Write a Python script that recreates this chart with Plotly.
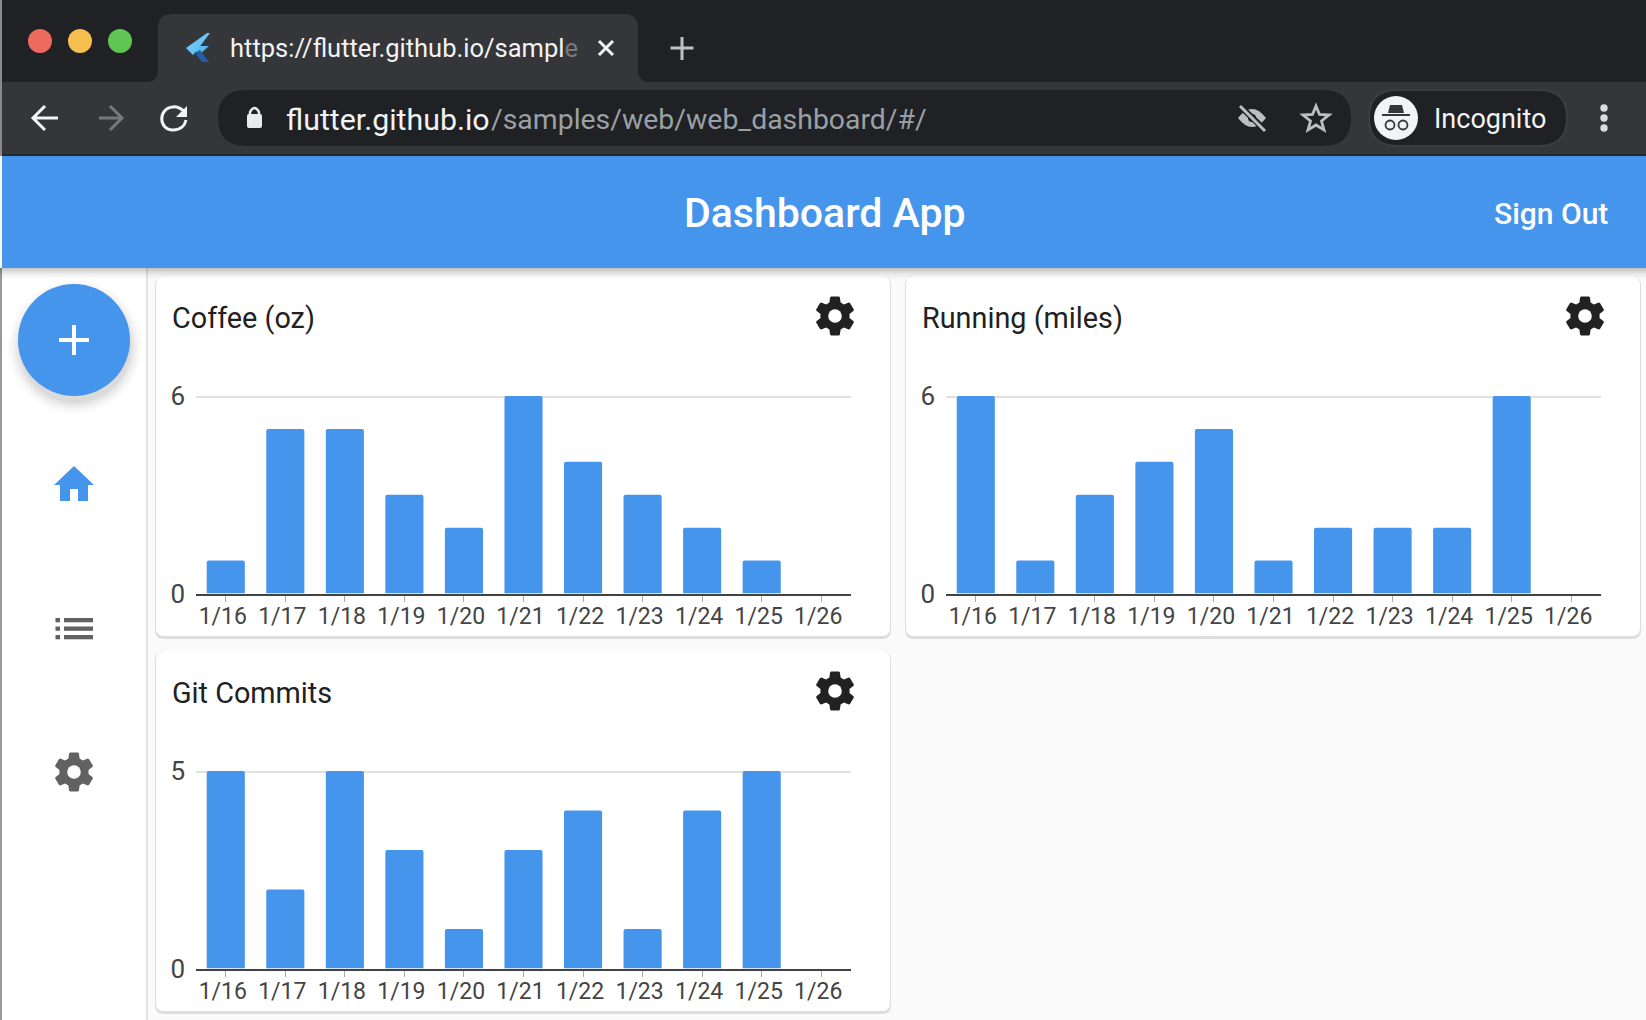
import re
import plotly.graph_objects as go

W = 1646
H = 1020

DATES = ['1/16', '1/17', '1/18', '1/19', '1/20', '1/21', '1/22', '1/23', '1/24', '1/25', '1/26']
COFFEE = [1, 5, 5, 3, 2, 6, 4, 3, 2, 1, 0]
RUNNING = [6, 1, 3, 4, 5, 1, 2, 2, 2, 6, 0]
COMMITS = [5, 2, 5, 3, 1, 3, 4, 1, 4, 5, 0]

TITLES = ['Coffee (oz)', 'Running (miles)', 'Git Commits']
SERIES = [COFFEE, RUNNING, COMMITS]
Y_TOPS = [6, 6, 5]
# card left / top in page pixels
CARDS = [(156, 276), (906, 276), (156, 651)]

BLUE = '#4595EC'
DARK = '#202124'
TOOLBAR = '#35363A'

GEAR = [(19.43, 12.98), (19.5, 12), (19.43, 11.02), (21.54, 9.37), (21.66, 8.73), (19.66, 5.27),
        (19.05, 5.05), (16.56, 6.05), (14.87, 5.07), (14.49, 2.42), (14, 2), (10, 2), (9.51, 2.42),
        (9.13, 5.07), (7.44, 6.05), (4.95, 5.05), (4.34, 5.27), (2.34, 8.73), (2.46, 9.37),
        (4.57, 11.02), (4.5, 12), (4.57, 12.98), (2.46, 14.63), (2.34, 15.27), (4.34, 18.73),
        (4.95, 18.95), (7.44, 17.95), (9.13, 18.93), (9.51, 21.58), (10, 22), (14, 22),
        (14.49, 21.58), (14.87, 18.93), (16.56, 17.95), (19.05, 18.95), (19.66, 18.73),
        (21.66, 15.27), (21.54, 14.63)]

shapes = []
notes = []


def to_paper(d):
    # page pixels -> paper coords, numbers come in x y pairs
    nums = iter(range(100000))
    def conv(m):
        v = float(m.group(0))
        return f'{v / W:.5f}' if next(nums) % 2 == 0 else f'{1 - v / H:.5f}'
    return re.sub(r'-?\d+\.?\d*', conv, d)


def path(d, fill=None, line=None, lw=0):
    shapes.append(dict(type='path', xref='paper', yref='paper', layer='below', path=to_paper(d),
                       fillcolor=fill or 'rgba(0,0,0,0)',
                       line=dict(color=line or 'rgba(0,0,0,0)', width=lw)))


def rect(x0, y0, x1, y1, fill, r=0, line=None, lw=0):
    if r == 0:
        d = f'M {x0} {y0} L {x1} {y0} L {x1} {y1} L {x0} {y1} Z'
    else:
        d = (f'M {x0 + r} {y0} L {x1 - r} {y0} Q {x1} {y0} {x1} {y0 + r} L {x1} {y1 - r} '
             f'Q {x1} {y1} {x1 - r} {y1} L {x0 + r} {y1} Q {x0} {y1} {x0} {y1 - r} '
             f'L {x0} {y0 + r} Q {x0} {y0} {x0 + r} {y0} Z')
    path(d, fill, line, lw)


def circle(cx, cy, r, fill, ry=None, line=None, lw=0):
    ry = ry or r
    shapes.append(dict(type='circle', xref='paper', yref='paper', layer='below',
                       x0=(cx - r) / W, x1=(cx + r) / W, y0=1 - (cy + ry) / H, y1=1 - (cy - ry) / H,
                       fillcolor=fill, line=dict(color=line or 'rgba(0,0,0,0)', width=lw)))


def text(x, y, s, size, color='#212121', anchor='left', font='Roboto', weight=400):
    notes.append(dict(xref='paper', yref='paper', x=x / W, y=1 - y / H, text=s, showarrow=False,
                      xanchor=anchor, yanchor='middle', borderpad=0,
                      font=dict(family=font, size=size, color=color, weight=weight)))


def gear(cx, cy, s, color, hole='#FFFFFF'):
    pts = [(cx + (a - 12) * s, cy + (b - 12) * s) for a, b in GEAR]
    path('M ' + ' L '.join(f'{a:.2f} {b:.2f}' for a, b in pts) + ' Z', color)
    circle(cx, cy, 3.5 * s, hole)


# ---- browser chrome
rect(0, 0, W, 82, DARK)
rect(0, 82, W, 156, TOOLBAR)
rect(0, 154, W, 156, '#26272A')
rect(0, 0, 2, 156, '#8A8A8A')

circle(40, 41, 12, '#ED6A5E', ry=12)
circle(80, 41, 12, '#F5BF4F', ry=12)
circle(120, 41, 12, '#61C554', ry=12)

path('M 146 82 Q 158 82 158 70 L 158 28 Q 158 14 172 14 L 624 14 Q 638 14 638 28 L 638 70 Q 638 82 650 82 Z', TOOLBAR)
path('M 207 33 L 210 33 L 198 49 L 193 55 L 186 48 Z', '#6CC3F5')
path('M 200 46 L 209 46 L 200 54 L 195 51 Z', '#5AB8F0')
path('M 195 53 L 200 50 L 209 62 L 202 62 Z', '#1F5FA8')
text(229, 48, 'https://flutter.github.io/sampl<span style="color:#77787B">e</span>', 25.5, '#F1F3F4')
path('M 599 41 L 613 55 M 613 41 L 599 55', None, '#F1F3F4', 3)
path('M 682 37 L 682 60 M 670.5 48 L 693.5 48', None, '#BDC1C6', 3)

# nav icons
path('M 58 118 L 34 118 M 45 106 L 33 118 L 45 130', None, '#F1F3F4', 3)
path('M 99 118 L 122 118 M 110 106 L 122 118 L 110 130', None, '#77787B', 3)
path('M 184 111 Q 177 106 173 107 C 158 108 158 130 173 130 C 181 130 185 125 186 120', None, '#F1F3F4', 3)
path('M 187 106 L 187 117 L 176 117 Z', '#F1F3F4')

rect(218, 90, 1351, 146, DARK, r=28)
rect(247, 114, 262, 128, '#E8EAED', r=2)
path('M 250 115 L 250 112 Q 254.5 104 259 112 L 259 115', None, '#E8EAED', 2.5)
text(285, 119, 'flutter.github.io', 30.3, '#F1F3F4')
text(490, 119, '/samples/web/web_dashboard/#/', 28.4, '#9AA0A6')

# eye off
path('M 1238 118 Q 1252 100 1266 118 Q 1252 136 1238 118 Z', '#BDBEC0')
circle(1252, 118, 4, DARK)
path('M 1240 106 L 1266 131', None, DARK, 6)
path('M 1240 106 L 1265 131', None, '#BDBEC0', 3)
# star
path('M 1316 106 L 1319.5 114.5 L 1329 115 L 1321.5 121 L 1324 130 L 1316 125 L 1308 130 L 1310.5 121 L 1303 115 L 1312.5 114.5 Z',
     None, '#BDBEC0', 2.8)

rect(1369, 90, 1567, 146, DARK, r=28, line='#3C3D41', lw=2)
circle(1396, 118, 22, '#F1F3F4')
path('M 1388 113 L 1390 105 L 1402 105 L 1404 113 Z', '#35363A')
rect(1382, 114, 1410, 116, '#35363A')
circle(1390, 125, 4.5, '#F1F3F4', line='#35363A', lw=1.8)
circle(1403, 125, 4.5, '#F1F3F4', line='#35363A', lw=1.8)
text(1433, 119, 'Incognito', 27, '#F1F3F4')
for yy in (108, 118, 128):
    circle(1604, yy, 3.7, '#DADCE0')

# ---- app
rect(2, 156, 147, H, '#FFFFFF')
rect(146, 268, 148, H, '#E3E3E3')
rect(0, 268, 2, H, '#9A9A9A')

for cx, cy in CARDS:
    rect(cx - 1, cy, cx + 735, cy + 363, '#DDDDDD', r=9)
    rect(cx, cy, cx + 734, cy + 360, '#FFFFFF', r=8)

# header + shadow
for i, a in enumerate([0.22, 0.17, 0.13, 0.09, 0.06, 0.04, 0.02]):
    rect(0, 268 + i * 1.5, W, 269.5 + i * 1.5, f'rgba(0,0,0,{a})')
rect(2, 156, W, 268, BLUE)
text(824, 213, 'Dashboard App', 41, '#FFFFFF', 'center', weight=500)
text(1609, 213, 'Sign Out', 30, '#FFFFFF', 'right', weight=500)

# fab
for r, a in [(68, 0.008), (66, 0.012), (64, 0.016), (62, 0.02), (60, 0.025), (58, 0.03), (56, 0.035)]:
    circle(75, 347, r, f'rgba(0,0,0,{a})')
circle(74, 340, 56, BLUE)
rect(59, 338, 89, 342, '#FFFFFF')
rect(72, 325, 76, 355, '#FFFFFF')

# side nav
path('M 70 501 L 70 489 L 78 489 L 78 501 L 88 501 L 88 485 L 94 485 L 74 466 L 54 485 L 60 485 L 60 501 Z', BLUE)
for yy in (618, 626.5, 635):
    rect(55.5, yy, 60, yy + 4.3, '#616161')
    rect(64, yy, 93, yy + 4.3, '#616161')
gear(74, 772, 1.95, '#616161')

# ---- cards with bars
fig = go.Figure()
layout_axes = {}
for i, (title, vals, top, (cx, cy)) in enumerate(zip(TITLES, SERIES, Y_TOPS, CARDS)):
    n = '' if i == 0 else str(i + 1)
    fig.add_trace(go.Bar(x=DATES, y=vals, marker=dict(color=BLUE, line=dict(width=0)),
                         xaxis='x' + n, yaxis='y' + n, showlegend=False, name=title))
    x0, x1 = cx + 40, cx + 695
    y0, y1 = cy + 120, cy + 317.5
    layout_axes['xaxis' + n] = dict(
        type='category', domain=[x0 / W, x1 / W], anchor='y' + n, showgrid=False, zeroline=False,
        showline=True, linecolor='#424242', linewidth=2, ticks='outside', ticklen=6, tickwidth=1.2,
        tickcolor='#ABABAB', tickangle=0, ticklabelshift=-3, ticklabelstandoff=-5,
        tickfont=dict(family='Roboto', size=23, color='#444444'), fixedrange=True)
    layout_axes['yaxis' + n] = dict(
        domain=[1 - y1 / H, 1 - y0 / H], anchor='x' + n, range=[0, top], tickvals=[0, top],
        showgrid=False, zeroline=False, showline=False, ticks='', ticklabelstandoff=10,
        tickfont=dict(family='Roboto', size=26, color='#444444'), fixedrange=True)
    # top grid line sits on the range edge, half of it gets clipped
    shapes.append(dict(type='line', xref=f'x{n} domain', yref='y' + n, x0=0, x1=1, y0=top, y1=top,
                       layer='below', line=dict(color='#E0E0E0', width=4)))
    text(cx + 15, cy + 41.5, title, 28.8)
    gear(cx + 679, cy + 40, 1.95, '#212121')

fig.update_layout(
    width=W, height=H, margin=dict(l=0, r=0, t=0, b=0, autoexpand=False), paper_bgcolor='#FAFAFA',
    plot_bgcolor='rgba(0,0,0,0)', bargap=0.36, barcornerradius=2, showlegend=False,
    shapes=shapes, annotations=notes, **layout_axes)

fig.write_html('out.html', config=dict(displayModeBar=False),
               post_script="document.body.style.margin='0';document.body.style.overflow='hidden';")
